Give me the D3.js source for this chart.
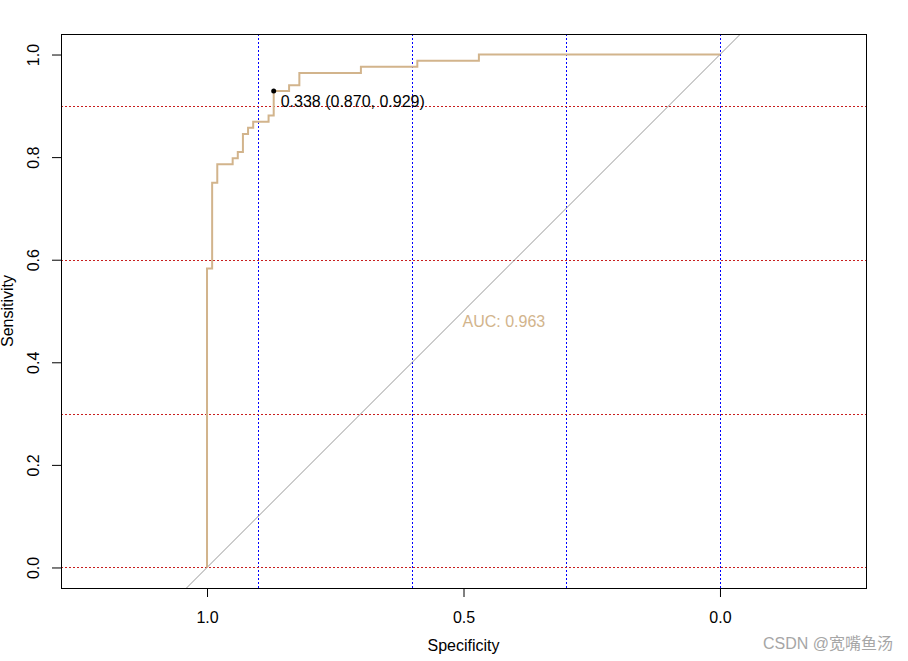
<!DOCTYPE html>
<html>
<head>
<meta charset="utf-8">
<script src="https://cdn.jsdelivr.net/npm/d3@7"></script>
<style>
  body { margin: 0; background: #fff; }
  text { font-family: "Liberation Sans", Arial, sans-serif; }
</style>
</head>
<body>
<div id="chart"></div>
<script>
// ROC curve corners (specificity, sensitivity)
const specificity = [1.00, 1.00, 0.99, 0.99, 0.98, 0.98, 0.95, 0.95, 0.94, 0.94, 0.93, 0.93, 0.92, 0.92, 0.91, 0.91,
  0.88, 0.88, 0.87, 0.87, 0.84, 0.84, 0.82, 0.82, 0.70, 0.70, 0.59, 0.59, 0.47, 0.47, 0.00];
const sensitivity = [0.000, 0.583, 0.583, 0.750, 0.750, 0.786, 0.786, 0.798, 0.798, 0.810, 0.810, 0.845, 0.845, 0.857, 0.857, 0.869,
  0.869, 0.881, 0.881, 0.929, 0.929, 0.940, 0.940, 0.964, 0.964, 0.976, 0.976, 0.988, 0.988, 1.000, 1.000];

const bestThreshold = 0.338;
const bestSpec = 0.870;
const bestSens = 0.929;
const aucValue = 0.963;

const xTicks = [1.0, 0.5, 0.0];
const yTicks = [0.0, 0.2, 0.4, 0.6, 0.8, 1.0];
const vGrid = [0.9, 0.6, 0.3, 0.0];   // specificity grid lines
const hGrid = [0.9, 0.6, 0.3, 0.0];   // sensitivity grid lines

const width = 908;
const height = 661;
const marginTop = 34;
const marginRight = 42;
const marginBottom = 73;
const marginLeft = 61;

// asp = 1: the x range is widened so one unit has the same pixels on both axes
const plotW = width - marginLeft - marginRight;
const plotH = height - marginTop - marginBottom;
const yMin = -0.04, yMax = 1.04;
const unit = plotH / (yMax - yMin);
const halfX = plotW / unit / 2;

const x = d3.scaleLinear().domain([0.5 + halfX, 0.5 - halfX]).range([marginLeft, width - marginRight]);
const y = d3.scaleLinear().domain([yMin, yMax]).range([height - marginBottom, marginTop]);

// snap 1px lines to pixel centres
const px = (v) => Math.round(v) + 0.5;

const svg = d3.select('#chart')
  .append('svg')
  .attr('width', width)
  .attr('height', height)
  .attr('viewBox', [0, 0, width, height]);

svg.append('clipPath')
  .attr('id', 'plotclip')
  .append('rect')
  .attr('x', marginLeft)
  .attr('y', marginTop)
  .attr('width', plotW)
  .attr('height', plotH);

const plot = svg.append('g').attr('clip-path', 'url(#plotclip)');

// Grid lines
plot.selectAll('.vgrid')
  .data(vGrid)
  .join('line')
  .attr('x1', (d) => px(x(d)))
  .attr('x2', (d) => px(x(d)))
  .attr('y1', marginTop)
  .attr('y2', height - marginBottom)
  .attr('stroke', '#0000ff')
  .attr('stroke-width', 1)
  .attr('stroke-dasharray', '2,2');

plot.selectAll('.hgrid')
  .data(hGrid)
  .join('line')
  .attr('x1', marginLeft)
  .attr('x2', width - marginRight)
  .attr('y1', (d) => px(y(d)))
  .attr('y2', (d) => px(y(d)))
  .attr('stroke', '#c81e1e')
  .attr('stroke-width', 1)
  .attr('stroke-dasharray', '2,2');

// Identity line
const xd = x.domain();
plot.append('line')
  .attr('x1', x(xd[0]))
  .attr('y1', y(1 - xd[0]))
  .attr('x2', x(xd[1]))
  .attr('y2', y(1 - xd[1]))
  .attr('stroke', '#8c8c8c')
  .attr('stroke-width', 0.9);

// ROC curve
const line = d3.line()
  .x((d) => x(d[0]))
  .y((d) => y(d[1]));

plot.append('path')
  .datum(d3.zip(specificity, sensitivity))
  .attr('d', line)
  .attr('fill', 'none')
  .attr('stroke', '#D2B48C')
  .attr('stroke-width', 2);

// Best threshold point and label
plot.append('circle')
  .attr('cx', x(bestSpec))
  .attr('cy', y(bestSens))
  .attr('r', 2.5)
  .attr('fill', 'black');

svg.append('text')
  .attr('x', x(bestSpec) + 7)
  .attr('y', y(bestSens) + 16)
  .attr('font-size', 16)
  .attr('fill', 'black')
  .text(d3.format('.3f')(bestThreshold) + ' (' + d3.format('.3f')(bestSpec) + ', ' + d3.format('.3f')(bestSens) + ')');

// AUC label
svg.append('text')
  .attr('x', x(0.5) - 1)
  .attr('y', y(0.5) + 15.5)
  .attr('font-size', 16)
  .attr('fill', '#D2B48C')
  .text('AUC: ' + d3.format('.3f')(aucValue));

// Frame
svg.append('rect')
  .attr('x', marginLeft + 0.5)
  .attr('y', marginTop + 0.5)
  .attr('width', plotW)
  .attr('height', plotH)
  .attr('fill', 'none')
  .attr('stroke', 'black')
  .attr('stroke-width', 1);

// X axis
const xAxis = svg.append('g')
  .attr('transform', 'translate(0,' + (height - marginBottom) + ')')
  .call(d3.axisBottom(x).tickValues(xTicks).tickFormat(d3.format('.1f')).tickSize(9).tickPadding(15));
xAxis.select('.domain').remove();
xAxis.selectAll('text').attr('font-size', 16).attr('font-family', '"Liberation Sans", Arial, sans-serif');

// Y axis
const yAxis = svg.append('g')
  .attr('transform', 'translate(' + marginLeft + ',0)')
  .call(d3.axisLeft(y).tickValues(yTicks).tickFormat(d3.format('.1f')).tickSize(9));
yAxis.select('.domain').remove();
yAxis.selectAll('text')
  .attr('font-size', 16)
  .attr('font-family', '"Liberation Sans", Arial, sans-serif')
  .attr('x', null)
  .attr('dy', null)
  .attr('text-anchor', 'middle')
  .attr('transform', 'translate(' + (39 - marginLeft) + ',0) rotate(-90)');

// Axis titles
svg.append('text')
  .attr('x', x(0.5))
  .attr('y', 651)
  .attr('text-anchor', 'middle')
  .attr('font-size', 16)
  .text('Specificity');

svg.append('text')
  .attr('transform', 'translate(13,' + (marginTop + plotH / 2) + ') rotate(-90)')
  .attr('text-anchor', 'middle')
  .attr('font-size', 16)
  .text('Sensitivity');

// Watermark
svg.append('text')
  .attr('x', 893)
  .attr('y', 649)
  .attr('text-anchor', 'end')
  .attr('font-size', 16)
  .attr('fill', '#a6a6a6')
  .style('font-family', '"Liberation Sans", "Noto Sans CJK SC", sans-serif')
  .text('CSDN @宽嘴鱼汤');
</script>
</body>
</html>
